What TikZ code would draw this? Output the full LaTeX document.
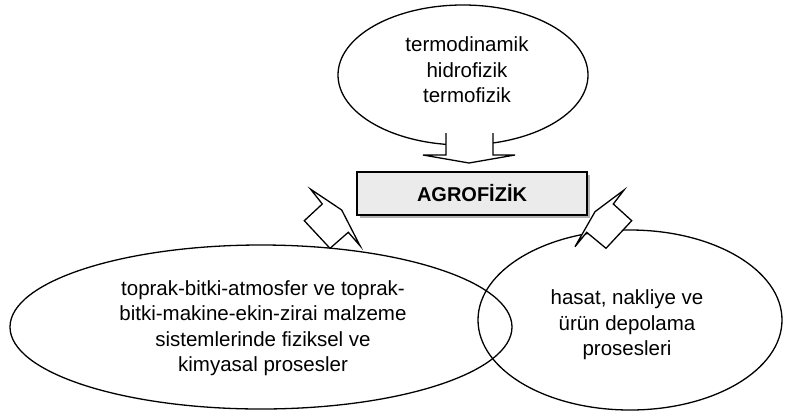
\documentclass[tikz,border=0pt]{standalone}
\usepackage{fontspec}
\setmainfont{Liberation Sans}
\tikzset{x=1pt,y=-1pt,
 ln/.style={draw=black,line width=1.3pt},
 txt/.style={align=center,font=\fontsize{20.5}{25.5}\selectfont,inner sep=0pt},
 blk/.style={ln,line join=miter,fill=white}}
\begin{document}
\begin{tikzpicture}
\useasboundingbox (0,0) rectangle (792,416);
\draw[ln] (463,75) ellipse [x radius=125, y radius=70];
\node[txt] (top) at (467,70) {termodinamik\\hidrofizik\\termofizik};
\draw[ln] (261,327) ellipse [x radius=251, y radius=82];
\draw[ln] (630,320) ellipse [x radius=152, y radius=90];
\node[txt] (left) at (263,328) {toprak-bitki-atmosfer ve toprak-\\bitki-makine-ekin-zirai malzeme\\sistemlerinde fiziksel ve\\kimyasal prosesler};
\node[txt] (right) at (627,325) {hasat, nakliye ve\\ürün depolama\\prosesleri};
\fill[gray!60] (360,175) rectangle (590,218);
\node[draw=black,line width=1.3pt,fill=black!8,minimum width=230pt,minimum height=43pt,inner sep=0pt,font=\fontsize{20}{24}\selectfont\bfseries] (agro) at (472,193.5) {AGROFİZİK};
\draw[blk] (446,133) -- (446,155) -- (423,155) -- (469,163) -- (515,155) -- (493,155) -- (493,133);
\draw[blk] (330,248.3) -- (304.3,220.7) -- (322.3,204) -- (310.7,189.3) -- (341.7,210) -- (360,245.7) -- (348.3,232.3) -- cycle;
\draw[blk] (606,248.3) -- (631.7,220.7) -- (613.3,204) -- (624,190) -- (595,211.7) -- (575,246.7) -- (586.7,232.3) -- cycle;
\end{tikzpicture}
\end{document}
